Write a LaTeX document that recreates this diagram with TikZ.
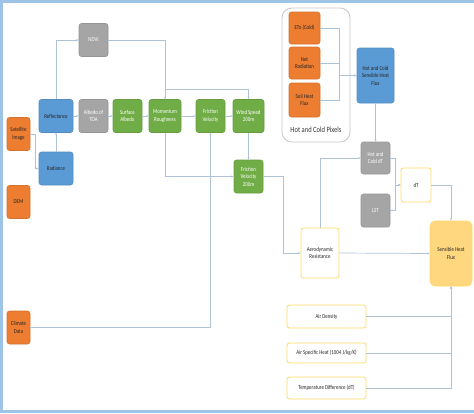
\documentclass[tikz,border=0pt]{standalone}
\usepackage{fontspec}
\setmainfont{Carlito}[FakeStretch=0.82]
\usetikzlibrary{arrows.meta}
\definecolor{orng}{HTML}{ED7D31}
\definecolor{blu}{HTML}{5B9BD5}
\definecolor{grn}{HTML}{70AD47}
\definecolor{gry}{HTML}{A5A5A5}
\definecolor{ylw}{HTML}{FFD966}
\definecolor{gold}{HTML}{FFD77E}
\definecolor{lnblue}{HTML}{AFC3D8}
\definecolor{frame}{HTML}{9DC3E6}

\begin{document}
\begin{tikzpicture}[x=1pt,y=-1pt,semithick,
  box/.style={rounded corners=2.5pt,align=center,inner sep=1pt,
    font=\fontsize{6}{7.5}\selectfont,minimum width=29pt,minimum height=33pt},
  orangebox/.style={box,fill=orng,draw=orng!90!black,text=black!85},
  bluebox/.style={box,fill=blu,draw=blu!90!black,text=black!85},
  greenbox/.style={box,fill=grn,draw=grn!90!black,text=white},
  graybox/.style={box,fill=gry,draw=gry!90!black,text=white},
  yellowbox/.style={box,fill=white,draw=ylw,line width=0.8pt,text=black!85},
  conn/.style={draw=lnblue,line width=0.7pt,-{Stealth[length=2.5pt,width=2pt]}},
  plain/.style={draw=lnblue,line width=0.7pt}]
\useasboundingbox (0,0) rectangle (474,413);
\draw[frame,line width=3pt] (474,1.5) -- (1.5,1.5) -- (1.5,411.5) -- (474,411.5);

\draw[gray!45,line width=0.8pt,rounded corners=10pt] (282,8) rectangle (350,142);
\node[font=\fontsize{8}{9}\selectfont,text=black!80] (pixlbl) at (316,130) {Hot and Cold Pixels};

\node[graybox] (ndvi) at (93.5,40) {NDVI};
\node[bluebox,minimum width=34pt] (refl) at (56,116) {Reflectance};
\node[graybox] (toa) at (93.5,116) {Albedo of\\TOA};
\node[greenbox] (salb) at (127.5,116) {Surface\\Albedo};
\node[greenbox,minimum width=32pt] (mom) at (165,116) {Momentum\\Roughness};
\node[greenbox] (fric) at (210.5,116) {Friction\\Velocity};
\node[greenbox,minimum width=31pt] (wind) at (248.5,116) {Wind Speed\\200m};
\node[greenbox] (fric200) at (248.5,176.5) {Friction\\Velocity\\200m};
\node[orangebox,minimum width=23pt] (sat) at (18.5,134) {Satellite\\Image};
\node[bluebox,minimum width=34pt] (rad) at (56,168.5) {Radiance};
\node[orangebox,minimum width=23pt] (dem) at (18.5,202) {DEM};
\node[orangebox,minimum width=23pt] (clim) at (18.5,327.5) {Climate\\Data};

\node[orangebox,minimum width=31pt,minimum height=32pt] (eto) at (304.5,28) {ETo (Cold)};
\node[orangebox,minimum width=31pt,minimum height=32pt] (netr) at (304.5,63) {Net\\Radiation};
\node[orangebox,minimum width=31pt,minimum height=34pt] (soil) at (304.5,100) {Soil Heat\\Flux};
\node[bluebox,minimum width=37pt,minimum height=55pt] (hcshf) at (375.5,75.5) {Hot and Cold\\Sensible Heat\\Flux};
\node[graybox,minimum height=32pt] (hcdt) at (375.5,158) {Hot and\\Cold dT};
\node[yellowbox,minimum width=30pt,minimum height=34pt] (dt) at (416,185) {dT};
\node[graybox] (lst) at (375.5,210.5) {LST};
\node[yellowbox,minimum width=38pt,minimum height=50pt] (aero) at (320,253) {Aerodynamic\\Resistance};
\node[box,fill=gold,draw=ylw,minimum width=42pt,minimum height=65pt,rounded corners=5pt,text=black!85] (shf) at (451,253.5) {Sensible Heat\\Flux};
\node[yellowbox,minimum width=79pt,minimum height=23pt] (airden) at (326.5,316.5) {Air Density};
\node[yellowbox,minimum width=79pt,minimum height=20pt] (airsp) at (326.5,353) {Air Specific Heat (1004 J/kg/K)};
\node[yellowbox,minimum width=79pt,minimum height=22pt] (tdiff) at (326.5,388) {Temperature Difference (dT)};

\draw[conn] (sat.east) -- ++(5,0) |- (rad.west);
\draw[conn] (rad.north) -- (refl.south);
\draw[conn] (refl.north) |- (ndvi.west);
\draw[conn] (ndvi.east) -| (mom.north);
\draw[conn] (mom.north) ++(0,-10) -| (wind.north);
\draw[conn] (refl.east) -- (toa.west);
\draw[conn] (toa.east) -- (salb.west);
\draw[conn] (salb.east) -- (mom.west);
\draw[conn] (mom.east) -- (fric.west);
\draw[conn] (fric.east) -- (wind.west);
\draw[conn] (wind.south) -- (fric200.north);
\draw[conn] (mom.south) |- (fric200.west);
\draw[conn] (clim.east) -| (fric.south);
\draw[conn] (fric200.east) -- ++(20,0) |- (aero.west);
\draw[conn] (aero.north) |- (hcdt.west);
\draw[conn] (aero.east) -- (shf.west);
\draw[conn] (eto.east) -- ++(19,0) |- (hcshf.west);
\draw[conn] (soil.east) -- ++(19,0) |- (hcshf.west);
\draw[plain] (netr.east) -- ++(19,0);
\draw[conn] (hcshf.south) -- (hcdt.north);
\draw[conn] (hcdt.east) -- ++(5,0) |- (dt.west);
\draw[conn] (lst.east) -- ++(5,0) |- (dt.west);
\draw[conn] (dt.east) -| (shf.north);
\draw[conn] (airden.east) -| (shf.south);
\draw[conn] (airsp.east) -| (shf.south);
\draw[conn] (tdiff.east) -| (shf.south);
\end{tikzpicture}
\end{document}
